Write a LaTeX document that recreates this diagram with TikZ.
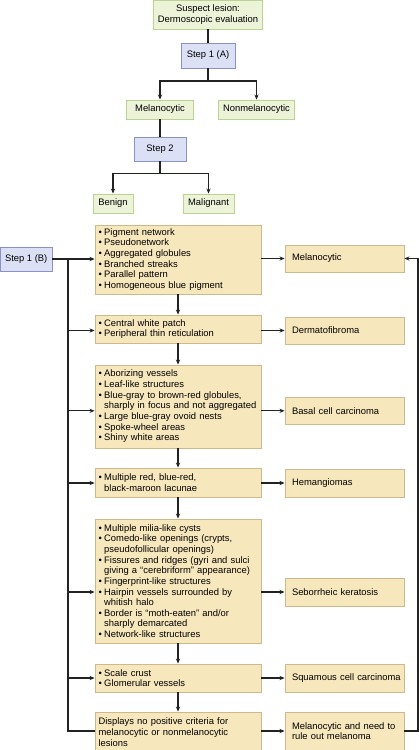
\documentclass[tikz,border=0pt]{standalone}
\usepackage{fontspec}
\setmainfont{Liberation Sans}
\usetikzlibrary{arrows.meta,calc}
\definecolor{gfill}{HTML}{EDF3D8}
\definecolor{gline}{HTML}{B9D48F}
\definecolor{bfill}{HTML}{DCE0F5}
\definecolor{bline}{HTML}{8991C8}
\definecolor{tfill}{HTML}{F7E7BD}
\definecolor{tline}{HTML}{CDB98B}
\definecolor{conn}{HTML}{222222}
\newcommand{\fs}{\fontsize{9.4}{10.65}\selectfont}
\newcommand{\bu}{\makebox[5.6pt][l]{•}}
\newcommand{\hi}{\hspace*{5.6pt}}
\begin{document}
\begin{tikzpicture}[x=1pt,y=-1pt,
  base/.style={line width=0.9pt, font=\fs, inner sep=0pt},
  gbox/.style={base, draw=gline, fill=gfill, align=center},
  bbox/.style={base, draw=bline, fill=bfill, align=center},
  cbox/.style={base, draw=tline, fill=tfill, inner xsep=3.6pt, text width=158.8pt, minimum width=166pt, align=left},
  rbox/.style={base, draw=tline, fill=tfill, inner xsep=7pt, text width=105pt, minimum width=119pt, align=left},
  ln/.style={draw=conn, line width=1.1pt},
  arr/.style={ln, -{Stealth[length=5pt,width=4.2pt]}}]
\useasboundingbox (0,0) rectangle (419,750);
\fill[white] (0,0) rectangle (419,750);

% top tree
\node[gbox, minimum width=109pt, minimum height=29pt] (sus) at (208,14.5) {Suspect lesion:\\Dermoscopic evaluation};
\node[bbox, minimum width=54pt, minimum height=25pt] (s1a) at (208,55.5) {Step 1 (A)};
\node[gbox, minimum width=67pt, minimum height=19pt] (mel) at (160,109.5) {Melanocytic};
\node[gbox, minimum width=76pt, minimum height=19pt] (non) at (256.5,109.5) {Nonmelanocytic};
\node[bbox, minimum width=52pt, minimum height=24pt] (s2) at (160,149) {Step 2};
\node[gbox, minimum width=40pt, minimum height=19pt] (ben) at (113,203.5) {Benign};
\node[gbox, minimum width=51pt, minimum height=19pt] (mal) at (208.5,203.5) {Malignant};

\draw[ln] (sus.south) -- (s1a.north);
\draw[ln] (s1a.south) -- ++(0,12.5) coordinate (b1);
\draw[arr] (b1) -| (mel.north);
\draw[arr] (b1) -| (non.north);
\draw[ln] (mel.south) -- (s2.north);
\draw[ln] (s2.south) -- ++(0,12) coordinate (b2);
\draw[arr] (b2) -| (ben.north);
\draw[arr] (b2) -| (mal.north);

% step 1 (B)
\node[bbox, minimum width=51.5pt, minimum height=24pt] (s1b) at (26.2,259) {Step 1 (B)};

% criteria boxes
\node[cbox, minimum height=69pt] (c1) at (178,259.5) {%
\bu Pigment network\\
\bu Pseudonetwork\\
\bu Aggregated globules\\
\bu Branched streaks\\
\bu Parallel pattern\\
\bu Homogeneous blue pigment};
\node[cbox, minimum height=28pt] (c2) at (178,329) {%
\bu Central white patch\\
\bu Peripheral thin reticulation};
\node[cbox, minimum height=83pt] (c3) at (178,406.5) {%
\bu Aborizing vessels\\
\bu Leaf-like structures\\
\bu Blue-gray to brown-red globules,\\
\hi\mbox{sharply in focus and not aggregated}\\
\bu Large blue-gray ovoid nests\\
\bu Spoke-wheel areas\\
\bu Shiny white areas};
\node[cbox, minimum height=29pt] (c4) at (178,482.5) {%
\bu Multiple red, blue-red,\\
\hi black-maroon lacunae};
\node[cbox, minimum height=124pt] (c5) at (178,581) {%
\bu Multiple milia-like cysts\\
\bu Comedo-like openings (crypts,\\
\hi pseudofollicular openings)\\
\bu \mbox{Fissures and ridges (gyri and sulci}\\
\hi\mbox{giving a “cerebriform” appearance)}\\
\bu Fingerprint-like structures\\
\bu Hairpin vessels surrounded by\\
\hi whitish halo\\
\bu Border is “moth-eaten” and/or\\
\hi sharply demarcated\\
\bu Network-like structures};
\node[cbox, minimum height=28pt] (c6) at (178,678) {%
\bu Scale crust\\
\bu Glomerular vessels};
\node[cbox, minimum height=40pt] (c7) at (178,732) {%
Displays no positive criteria for\\
melanocytic or nonmelanocytic\\
lesions};

% result boxes
\node[rbox, minimum height=27pt] (r1) at (344.5,258.5) {Melanocytic};
\node[rbox, minimum height=27pt] (r2) at (344.5,330.5) {Dermatofibroma};
\node[rbox, minimum height=27pt] (r3) at (344.5,410.8) {Basal cell carcinoma};
\node[rbox, minimum height=28pt] (r4) at (344.5,483) {Hemangiomas};
\node[rbox, minimum height=28pt] (r5) at (344.5,592) {Seborrheic keratosis};
\node[rbox, minimum height=28pt] (r6) at (344.5,678) {\mbox{Squamous cell carcinoma}};
\node[rbox, minimum height=38pt] (r7) at (344.5,731) {Melanocytic and need to\\rule out melanoma};

% vertical chain
\draw[arr] (c1.south) -- (c2.north);
\draw[arr] (c2.south) -- (c3.north);
\draw[arr] (c3.south) -- (c4.north);
\draw[arr] (c4.south) -- (c5.north);
\draw[arr] (c5.south) -- (c6.north);
\draw[arr] (c6.south) -- (c7.north);

% criteria -> result
\foreach \i in {1,...,7}{
  \draw[arr] (c\i.east |- r\i.center) -- (r\i.west);
}

% left bus
\coordinate (ltop) at (68,259);
\coordinate (lbot) at (68,731);
\draw[arr] (s1b.east) -- (c1.west |- s1b.center);
\draw[ln] (ltop) -- (lbot) -- (c7.west |- lbot);
\foreach \i in {2,...,6}{
  \draw[arr] (ltop |- r\i.center) -- (c\i.west |- r\i.center);
}

% right return
\coordinate (rbot) at (418,731);
\draw[arr] (r7.east) -- (rbot) |- (r1.east);
\end{tikzpicture}
\end{document}
